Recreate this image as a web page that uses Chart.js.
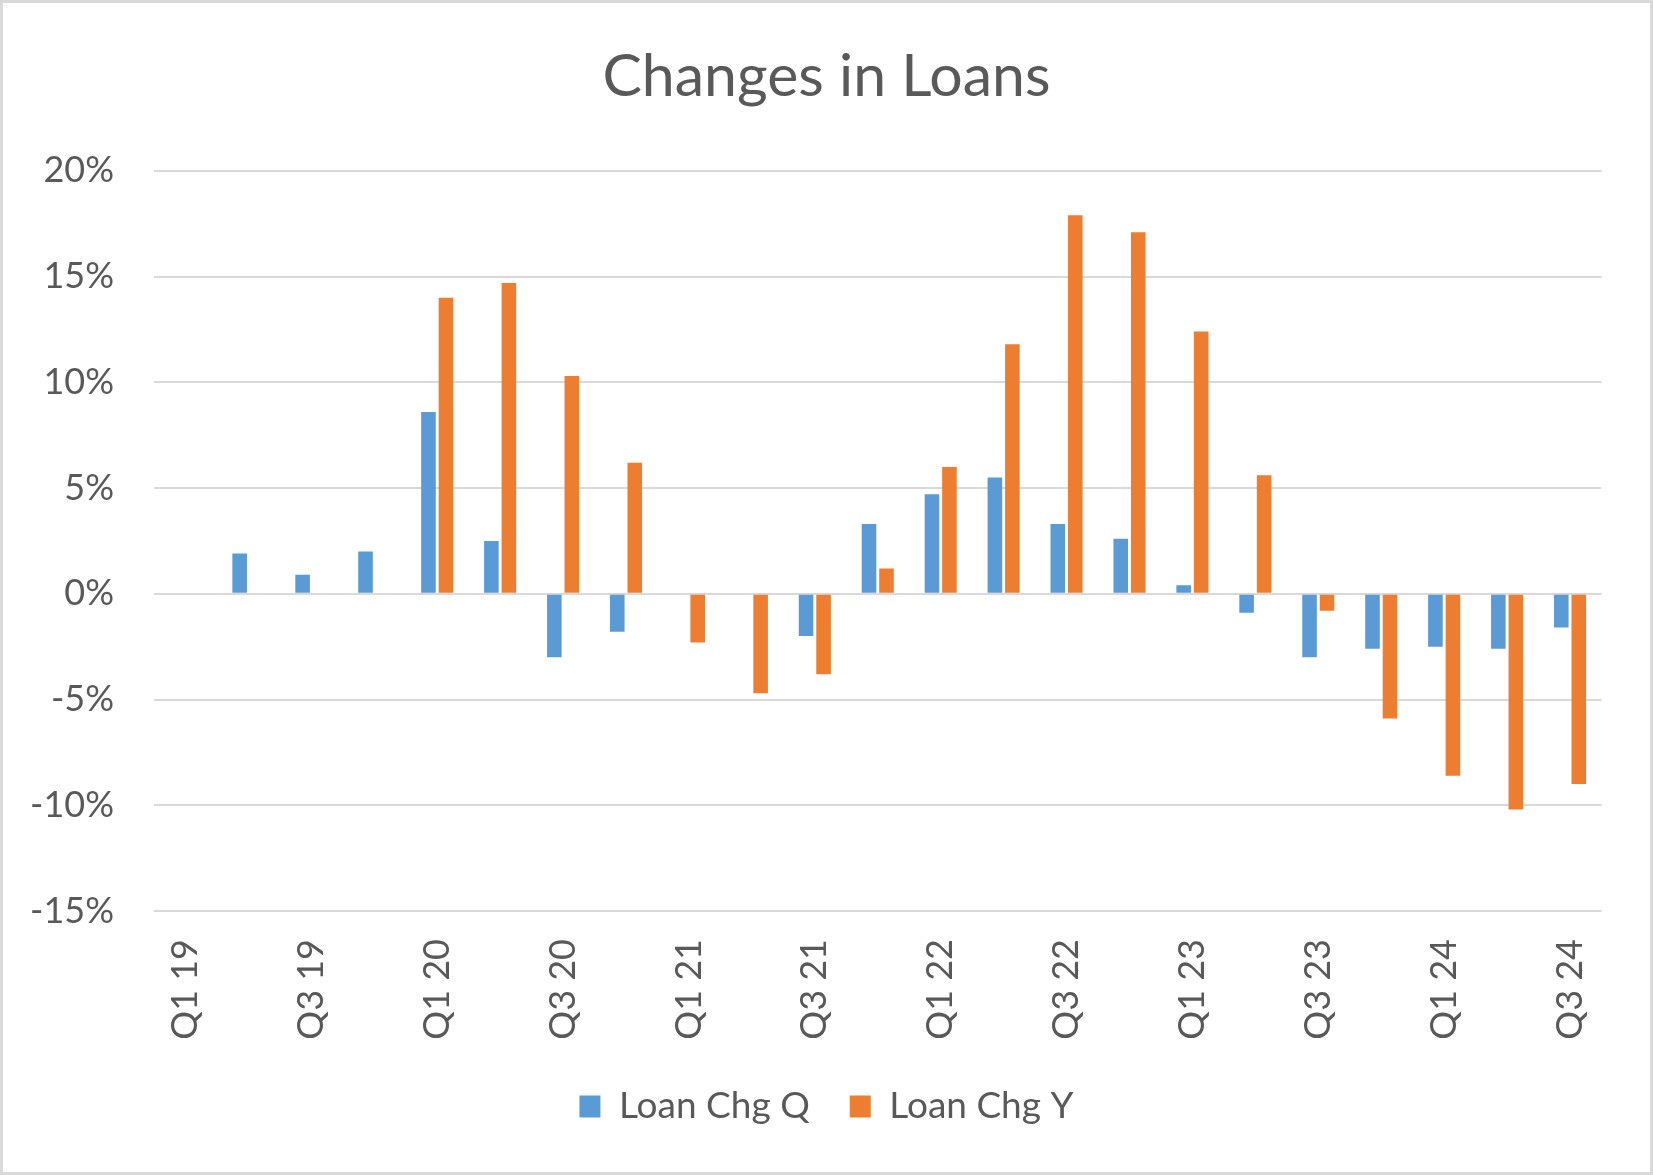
<!DOCTYPE html>
<html>
<head>
<meta charset="utf-8">
<script src="https://cdn.jsdelivr.net/npm/chart.js@4.4.1/dist/chart.umd.min.js"></script>
<style>
  html, body { margin: 0; padding: 0; background: #ffffff; }
  #wrap { position: relative; width: 1653px; height: 1175px; }
  canvas { display: block; }
</style>
</head>
<body>
<div id="wrap"><canvas id="c" width="1653" height="1175"></canvas></div>
<script>
const categories = ['Q1 19','Q2 19','Q3 19','Q4 19','Q1 20','Q2 20','Q3 20','Q4 20','Q1 21','Q2 21','Q3 21','Q4 21','Q1 22','Q2 22','Q3 22','Q4 22','Q1 23','Q2 23','Q3 23','Q4 23','Q1 24','Q2 24','Q3 24'];
const loanChgQ = [null, 1.9, 0.9, 2.0, 8.6, 2.5, -3.0, -1.8, 0, 0, -2.0, 3.3, 4.7, 5.5, 3.3, 2.6, 0.4, -0.9, -3.0, -2.6, -2.5, -2.6, -1.6];
const loanChgY = [null, null, null, null, 14.0, 14.7, 10.3, 6.2, -2.3, -4.7, -3.8, 1.2, 6.0, 11.8, 17.9, 17.1, 12.4, 5.6, -0.8, -5.9, -8.6, -10.2, -9.0];
const yTicks = [-15, -10, -5, 0, 5, 10, 15, 20];
const seriesNames = ['Loan Chg Q', 'Loan Chg Y'];

const FONT = 'Lato, "Open Sans", sans-serif';
const TXT = '#595959';

const frame = {
  id: 'frame',
  beforeDraw(chart) {
    const ctx = chart.ctx;
    ctx.save();
    ctx.fillStyle = '#ffffff';
    ctx.fillRect(0, 0, chart.width, chart.height);
    ctx.restore();
  },
  afterDraw(chart) {
    const ctx = chart.ctx;
    ctx.save();
    ctx.strokeStyle = '#d9d9d9';
    ctx.lineWidth = 3;
    ctx.strokeRect(1.5, 1.5, chart.width - 3, chart.height - 3);
    ctx.restore();
  }
};

new Chart(document.getElementById('c'), {
  type: 'bar',
  data: {
    labels: categories,
    datasets: [
      { label: seriesNames[0], data: loanChgQ, backgroundColor: '#5B9BD5', borderWidth: 0,
        categoryPercentage: 0.556, barPercentage: 0.834 },
      { label: seriesNames[1], data: loanChgY, backgroundColor: '#ED7D31', borderWidth: 0,
        categoryPercentage: 0.556, barPercentage: 0.834 }
    ]
  },
  options: {
    responsive: false,
    animation: false,
    layout: { padding: { top: 0, left: 0, right: 0, bottom: 40 } },
    plugins: {
      title: {
        display: true,
        text: 'Changes in Loans',
        color: TXT,
        font: { family: FONT, size: 59, weight: 'normal', lineHeight: 1.2 },
        padding: { top: 42, bottom: 58 }
      },
      legend: {
        display: true,
        position: 'bottom',
        labels: {
          color: TXT,
          font: { family: FONT, size: 37 },
          boxWidth: 21,
          boxHeight: 22,
          padding: 40
        }
      },
      tooltip: { enabled: false }
    },
    scales: {
      x: {
        grid: { display: false, drawTicks: false },
        border: { display: false },
        ticks: {
          autoSkip: false,
          minRotation: 90,
          maxRotation: 90,
          padding: 28,
          color: TXT,
          font: { family: FONT, size: 36 },
          callback: (v, i) => (i % 2 === 0 ? categories[i] : '')
        },
        afterFit(scale) { scale.height = 137; }
      },
      y: {
        min: yTicks[0],
        max: yTicks[yTicks.length - 1],
        afterBuildTicks(scale) { scale.ticks = yTicks.map(v => ({ value: v })); },
        grid: { color: '#d9d9d9', lineWidth: 2, drawTicks: false },
        border: { display: false },
        ticks: {
          padding: 40,
          color: TXT,
          font: { family: FONT, size: 36 },
          callback: v => v + '%'
        },
        afterFit(scale) { scale.width = 154; }
      },
      yRight: {
        position: 'right',
        display: true,
        grid: { display: false, drawTicks: false },
        border: { display: false },
        ticks: { display: false },
        afterFit(scale) { scale.width = 51.5; }
      }
    }
  },
  plugins: [frame]
});
</script>
</body>
</html>
